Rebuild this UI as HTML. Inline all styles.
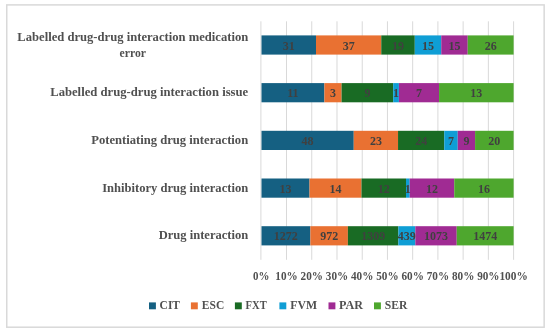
<!DOCTYPE html><html><head><meta charset="utf-8"><title>chart</title><style>html,body{margin:0;padding:0;background:#fff}svg{display:block}text{font-family:"Liberation Serif",serif;font-weight:bold;font-size:12.5px}.d{font-size:12px}.a{font-size:12px}.l{font-size:12.3px}</style></head><body>
<svg width="550" height="334" viewBox="0 0 550 334">
<rect x="0" y="0" width="550" height="334" fill="#fff"/>
<rect x="6.75" y="4.9" width="537.4" height="322.3" fill="#fff" stroke="#d9d9d9" stroke-width="1.5"/>
<line x1="260.90" y1="21.30" x2="260.90" y2="259.80" stroke="#d9d9d9" stroke-width="1"/>
<line x1="286.53" y1="21.30" x2="286.53" y2="259.80" stroke="#d9d9d9" stroke-width="1"/>
<line x1="311.76" y1="21.30" x2="311.76" y2="259.80" stroke="#d9d9d9" stroke-width="1"/>
<line x1="336.99" y1="21.30" x2="336.99" y2="259.80" stroke="#d9d9d9" stroke-width="1"/>
<line x1="362.22" y1="21.30" x2="362.22" y2="259.80" stroke="#d9d9d9" stroke-width="1"/>
<line x1="387.45" y1="21.30" x2="387.45" y2="259.80" stroke="#d9d9d9" stroke-width="1"/>
<line x1="412.68" y1="21.30" x2="412.68" y2="259.80" stroke="#d9d9d9" stroke-width="1"/>
<line x1="437.91" y1="21.30" x2="437.91" y2="259.80" stroke="#d9d9d9" stroke-width="1"/>
<line x1="463.14" y1="21.30" x2="463.14" y2="259.80" stroke="#d9d9d9" stroke-width="1"/>
<line x1="488.37" y1="21.30" x2="488.37" y2="259.80" stroke="#d9d9d9" stroke-width="1"/>
<line x1="513.60" y1="21.30" x2="513.60" y2="259.80" stroke="#d9d9d9" stroke-width="1"/>
<rect x="261.50" y="35.40" width="54.49" height="19.20" fill="#156082"/>
<rect x="315.99" y="35.40" width="65.28" height="19.20" fill="#E97132"/>
<rect x="381.27" y="35.40" width="33.52" height="19.20" fill="#196B24"/>
<rect x="414.80" y="35.40" width="26.47" height="19.20" fill="#0F9ED5"/>
<rect x="441.26" y="35.40" width="26.47" height="19.20" fill="#A02B93"/>
<rect x="467.73" y="35.40" width="45.87" height="19.20" fill="#4EA72E"/>
<text class="d" x="288.65" y="49.60" text-anchor="middle" fill="#404040">31</text>
<text class="d" x="348.63" y="49.60" text-anchor="middle" fill="#404040">37</text>
<text class="d" x="398.04" y="49.60" text-anchor="middle" fill="#404040">19</text>
<text class="d" x="428.03" y="49.60" text-anchor="middle" fill="#404040">15</text>
<text class="d" x="454.49" y="49.60" text-anchor="middle" fill="#404040">15</text>
<text class="d" x="490.66" y="49.60" text-anchor="middle" fill="#404040">26</text>
<text x="132.8" y="40.6" text-anchor="middle" fill="#505050" textLength="231" lengthAdjust="spacingAndGlyphs">Labelled drug-drug interaction medication</text>
<text x="132.8" y="56.6" text-anchor="middle" fill="#505050" textLength="26.4" lengthAdjust="spacingAndGlyphs">error</text>
<rect x="261.50" y="83.10" width="62.88" height="19.20" fill="#156082"/>
<rect x="324.38" y="83.10" width="17.20" height="19.20" fill="#E97132"/>
<rect x="341.58" y="83.10" width="51.61" height="19.20" fill="#196B24"/>
<rect x="393.18" y="83.10" width="5.73" height="19.20" fill="#0F9ED5"/>
<rect x="398.92" y="83.10" width="40.14" height="19.20" fill="#A02B93"/>
<rect x="439.06" y="83.10" width="74.54" height="19.20" fill="#4EA72E"/>
<text class="d" x="292.84" y="97.30" text-anchor="middle" fill="#404040">11</text>
<text class="d" x="332.98" y="97.30" text-anchor="middle" fill="#404040">3</text>
<text class="d" x="367.38" y="97.30" text-anchor="middle" fill="#404040">9</text>
<text class="d" x="396.05" y="97.30" text-anchor="middle" fill="#404040">1</text>
<text class="d" x="418.99" y="97.30" text-anchor="middle" fill="#404040">7</text>
<text class="d" x="476.33" y="97.30" text-anchor="middle" fill="#404040">13</text>
<text x="248.2" y="96.10" text-anchor="end" fill="#505050" textLength="198" lengthAdjust="spacingAndGlyphs">Labelled drug-drug interaction issue</text>
<rect x="261.50" y="130.80" width="92.25" height="19.20" fill="#156082"/>
<rect x="353.75" y="130.80" width="44.30" height="19.20" fill="#E97132"/>
<rect x="398.04" y="130.80" width="46.22" height="19.20" fill="#196B24"/>
<rect x="444.27" y="130.80" width="13.48" height="19.20" fill="#0F9ED5"/>
<rect x="457.75" y="130.80" width="17.33" height="19.20" fill="#A02B93"/>
<rect x="475.08" y="130.80" width="38.52" height="19.20" fill="#4EA72E"/>
<text class="d" x="307.52" y="145.00" text-anchor="middle" fill="#404040">48</text>
<text class="d" x="375.89" y="145.00" text-anchor="middle" fill="#404040">23</text>
<text class="d" x="421.15" y="145.00" text-anchor="middle" fill="#404040">24</text>
<text class="d" x="451.01" y="145.00" text-anchor="middle" fill="#404040">7</text>
<text class="d" x="466.41" y="145.00" text-anchor="middle" fill="#404040">9</text>
<text class="d" x="494.34" y="145.00" text-anchor="middle" fill="#404040">20</text>
<text x="248.2" y="143.80" text-anchor="end" fill="#505050" textLength="157" lengthAdjust="spacingAndGlyphs">Potentiating drug interaction</text>
<rect x="261.50" y="178.50" width="48.03" height="19.20" fill="#156082"/>
<rect x="309.53" y="178.50" width="51.94" height="19.20" fill="#E97132"/>
<rect x="361.48" y="178.50" width="44.52" height="19.20" fill="#196B24"/>
<rect x="406.00" y="178.50" width="3.71" height="19.20" fill="#0F9ED5"/>
<rect x="409.71" y="178.50" width="44.52" height="19.20" fill="#A02B93"/>
<rect x="454.24" y="178.50" width="59.36" height="19.20" fill="#4EA72E"/>
<text class="d" x="285.42" y="192.70" text-anchor="middle" fill="#404040">13</text>
<text class="d" x="335.51" y="192.70" text-anchor="middle" fill="#404040">14</text>
<text class="d" x="383.74" y="192.70" text-anchor="middle" fill="#404040">12</text>
<text class="d" x="407.86" y="192.70" text-anchor="middle" fill="#404040">1</text>
<text class="d" x="431.97" y="192.70" text-anchor="middle" fill="#404040">12</text>
<text class="d" x="483.92" y="192.70" text-anchor="middle" fill="#404040">16</text>
<text x="248.2" y="191.50" text-anchor="end" fill="#505050" textLength="146" lengthAdjust="spacingAndGlyphs">Inhibitory drug interaction</text>
<rect x="261.50" y="226.20" width="48.88" height="19.20" fill="#156082"/>
<rect x="310.38" y="226.20" width="37.50" height="19.20" fill="#E97132"/>
<rect x="347.88" y="226.20" width="50.51" height="19.20" fill="#196B24"/>
<rect x="398.39" y="226.20" width="16.94" height="19.20" fill="#0F9ED5"/>
<rect x="415.33" y="226.20" width="41.40" height="19.20" fill="#A02B93"/>
<rect x="456.73" y="226.20" width="56.87" height="19.20" fill="#4EA72E"/>
<text class="d" x="285.84" y="240.40" text-anchor="middle" fill="#404040">1272</text>
<text class="d" x="329.13" y="240.40" text-anchor="middle" fill="#404040">972</text>
<text class="d" x="373.14" y="240.40" text-anchor="middle" fill="#404040">1309</text>
<text class="d" x="406.86" y="240.40" text-anchor="middle" fill="#404040">439</text>
<text class="d" x="436.03" y="240.40" text-anchor="middle" fill="#404040">1073</text>
<text class="d" x="485.16" y="240.40" text-anchor="middle" fill="#404040">1474</text>
<text x="248.2" y="239.20" text-anchor="end" fill="#505050" textLength="89.5" lengthAdjust="spacingAndGlyphs">Drug interaction</text>
<text class="a" x="261.30" y="280" text-anchor="middle" fill="#505050" textLength="16.4" lengthAdjust="spacingAndGlyphs">0%</text>
<text class="a" x="286.53" y="280" text-anchor="middle" fill="#505050" textLength="22.4" lengthAdjust="spacingAndGlyphs">10%</text>
<text class="a" x="311.76" y="280" text-anchor="middle" fill="#505050" textLength="22.4" lengthAdjust="spacingAndGlyphs">20%</text>
<text class="a" x="336.99" y="280" text-anchor="middle" fill="#505050" textLength="22.4" lengthAdjust="spacingAndGlyphs">30%</text>
<text class="a" x="362.22" y="280" text-anchor="middle" fill="#505050" textLength="22.4" lengthAdjust="spacingAndGlyphs">40%</text>
<text class="a" x="387.45" y="280" text-anchor="middle" fill="#505050" textLength="22.4" lengthAdjust="spacingAndGlyphs">50%</text>
<text class="a" x="412.68" y="280" text-anchor="middle" fill="#505050" textLength="22.4" lengthAdjust="spacingAndGlyphs">60%</text>
<text class="a" x="437.91" y="280" text-anchor="middle" fill="#505050" textLength="22.4" lengthAdjust="spacingAndGlyphs">70%</text>
<text class="a" x="463.14" y="280" text-anchor="middle" fill="#505050" textLength="22.4" lengthAdjust="spacingAndGlyphs">80%</text>
<text class="a" x="488.37" y="280" text-anchor="middle" fill="#505050" textLength="22.4" lengthAdjust="spacingAndGlyphs">90%</text>
<text class="a" x="513.60" y="280" text-anchor="middle" fill="#505050" textLength="28.4" lengthAdjust="spacingAndGlyphs">100%</text>
<rect x="149.00" y="302.4" width="6.9" height="6.9" fill="#156082"/>
<text class="l" x="159.60" y="309.4" fill="#505050" textLength="20.4" lengthAdjust="spacingAndGlyphs">CIT</text>
<rect x="190.90" y="302.4" width="6.9" height="6.9" fill="#E97132"/>
<text class="l" x="201.80" y="309.4" fill="#505050" textLength="22.4" lengthAdjust="spacingAndGlyphs">ESC</text>
<rect x="234.90" y="302.4" width="6.9" height="6.9" fill="#196B24"/>
<text class="l" x="245.60" y="309.4" fill="#505050" textLength="21.2" lengthAdjust="spacingAndGlyphs">FXT</text>
<rect x="279.40" y="302.4" width="6.9" height="6.9" fill="#0F9ED5"/>
<text class="l" x="290.30" y="309.4" fill="#505050" textLength="26.8" lengthAdjust="spacingAndGlyphs">FVM</text>
<rect x="328.50" y="302.4" width="6.9" height="6.9" fill="#A02B93"/>
<text class="l" x="339.10" y="309.4" fill="#505050" textLength="24.0" lengthAdjust="spacingAndGlyphs">PAR</text>
<rect x="374.00" y="302.4" width="6.9" height="6.9" fill="#4EA72E"/>
<text class="l" x="384.70" y="309.4" fill="#505050" textLength="22.6" lengthAdjust="spacingAndGlyphs">SER</text>
</svg></body></html>
